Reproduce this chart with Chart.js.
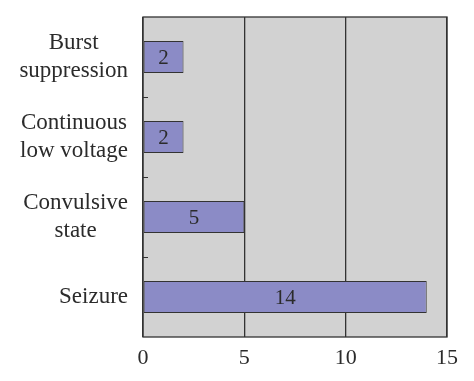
<!DOCTYPE html>
<html>
<head>
<meta charset="utf-8">
<script src="https://cdn.jsdelivr.net/npm/chart.js@4"></script>
<style>
html,body{margin:0;padding:0;background:#fff;}
#wrap{width:474px;height:381px;}
</style>
</head>
<body>
<div id="wrap"><canvas id="c" width="474" height="381"></canvas></div>
<script>
const categories = [['Burst', 'suppression'], ['Continuous', 'low voltage'], ['Convulsive', 'state'], ['Seizure']];
const values = [2, 2, 5, 14];
const xTicks = [0, 5, 10, 15];

const FONT = "'Liberation Serif', 'Times New Roman', Times, serif";
const INK = '#2b2b2b';

const decor = {
  id: 'decor',
  beforeDraw(chart) {
    const {ctx, chartArea: a} = chart;
    ctx.save();
    ctx.fillStyle = '#d2d2d2';
    ctx.fillRect(a.left, a.top, a.right - a.left, a.bottom - a.top);
    ctx.restore();
  },
  afterDatasetsDraw(chart) {
    const {ctx, chartArea: a} = chart;
    const ys = chart.scales.y;
    ctx.save();
    ctx.strokeStyle = '#333';
    ctx.lineWidth = 1.3;
    ctx.strokeRect(a.left, a.top, a.right - a.left, a.bottom - a.top);
    ctx.lineWidth = 1;
    for (let i = 0; i < categories.length - 1; i++) {
      const y = Math.round((ys.getPixelForValue(i) + ys.getPixelForValue(i + 1)) / 2) + 0.5;
      ctx.beginPath();
      ctx.moveTo(a.left, y);
      ctx.lineTo(a.left + 5, y);
      ctx.stroke();
    }
    const meta = chart.getDatasetMeta(0);
    ctx.fillStyle = INK;
    ctx.font = '21px ' + FONT;
    ctx.textAlign = 'center';
    ctx.textBaseline = 'middle';
    meta.data.forEach((bar, i) => {
      const p = bar.getProps(['x', 'y', 'base'], true);
      ctx.fillText(String(values[i]), (p.x + p.base) / 2, p.y + 1);
    });
    ctx.font = '23px ' + FONT;
    const lh = 28;
    const rightEdge = 128;
    categories.forEach((lines, i) => {
      const cy = ys.getPixelForValue(i);
      const maxW = Math.max(...lines.map(l => ctx.measureText(l).width));
      const cx = rightEdge - maxW / 2;
      const y0 = cy - (lines.length - 1) * lh / 2;
      lines.forEach((l, j) => ctx.fillText(l, cx, y0 + j * lh));
    });
    ctx.restore();
  }
};

new Chart(document.getElementById('c'), {
  type: 'bar',
  data: {
    labels: categories,
    datasets: [{
      data: values,
      backgroundColor: '#8b8bc6',
      borderColor: '#333',
      borderWidth: 1,
      borderSkipped: false,
      barPercentage: 0.4,
      categoryPercentage: 1.0
    }]
  },
  options: {
    indexAxis: 'y',
    responsive: false,
    animation: false,
    devicePixelRatio: 1,
    layout: {padding: {top: 17, right: 27, left: 0, bottom: 0}},
    plugins: {legend: {display: false}, tooltip: {enabled: false}},
    scales: {
      x: {
        min: xTicks[0],
        max: xTicks[xTicks.length - 1],
        afterBuildTicks(s) { s.ticks = xTicks.map(v => ({value: v})); },
        afterFit(s) { s.height = 44; },
        border: {display: false},
        grid: {color: '#333', lineWidth: 1.3, drawTicks: false},
        ticks: {
          padding: 8,
          color: INK,
          font: {family: FONT, size: 22}
        }
      },
      y: {
        afterFit(s) { s.width = 143; },
        border: {display: false},
        grid: {display: false},
        ticks: {display: false}
      }
    }
  },
  plugins: [decor]
});
</script>
</body>
</html>
